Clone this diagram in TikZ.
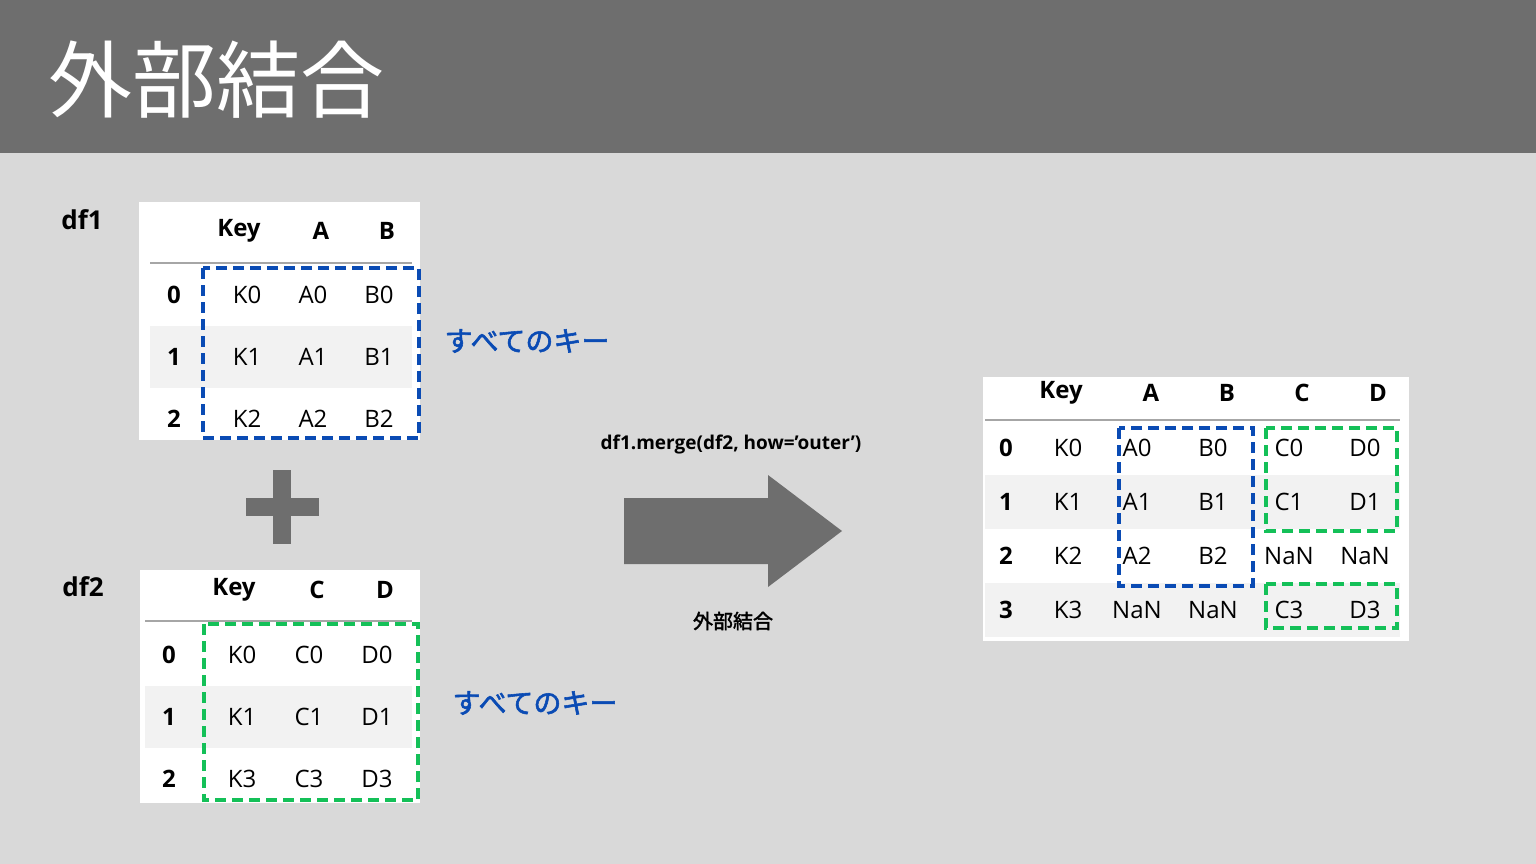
\documentclass[tikz,border=0pt]{standalone}
\usepackage{fontspec}
\setmainfont{Open Sans}
\newfontfamily\jpfont{Noto Sans CJK JP}
\newfontfamily\jpbold{Noto Sans CJK JP}[FakeBold=2]
\usetikzlibrary{positioning,calc}
\definecolor{bandgray}{HTML}{6E6E6E}
\definecolor{bggray}{HTML}{D9D9D9}
\definecolor{rowshade}{HTML}{F2F2F2}
\definecolor{keyblue}{HTML}{0A4BB4}
\definecolor{keygreen}{HTML}{14C058}
\begin{document}
\begin{tikzpicture}[x=1pt,y=-1pt,
  cell/.style={font=\fontsize{24}{24}\selectfont, inner sep=0pt},
  head/.style={cell, font=\fontsize{24}{24}\selectfont\bfseries},
  label/.style={font=\fontsize{26}{26}\selectfont\bfseries, inner sep=0pt},
  keynote/.style={font=\jpbold\fontsize{28}{28}\selectfont, text=keyblue, inner sep=0pt},
  bluebox/.style={draw=keyblue, line width=4pt, dash pattern=on 11pt off 6pt},
  greenbox/.style={draw=keygreen, line width=4pt, dash pattern=on 11pt off 6pt}]
\useasboundingbox (0,0) rectangle (1536,864);
\fill[bggray] (0,0) rectangle (1536,864);
\fill[bandgray] (0,0) rectangle (1536,153);
\node[font=\jpfont\fontsize{84}{84}\selectfont, text=white, anchor=west, inner sep=0pt] (title) at (48,80) {外部結合};

% df1
\node[label] (df1) at (82,220) {df1};
\fill[white] (139,202) rectangle (420,440);
\fill[rowshade] (150,326) rectangle (412,388);
\draw[line width=1.5pt, gray!70] (150,263) -- (412,263);
\node[head] (h1k) at (239,231) {Key};
\node[head] (h1a) at (321,231) {A};
\node[head] (h1b) at (387,231) {B};
\foreach \i/\y in {0/295,1/357,2/419}{
  \node[head] (r1i\i) at (174,\y) {\i};
  \node[cell] (r1k\i) at (247,\y) {K\i};
  \node[cell] (r1a\i) at (313,\y) {A\i};
  \node[cell] (r1b\i) at (379,\y) {B\i};
}
\draw[bluebox] (203,268) rectangle (419,438);
\node[keynote] (all1) at (527,341) {すべてのキー};

% plus
\fill[bandgray] (246,498) rectangle (319,516);
\fill[bandgray] (273,470) rectangle (291,544);

% df2
\node[label] (df2) at (83,587) {df2};
\fill[white] (140,570) rectangle (420,803);
\fill[rowshade] (145,686) rectangle (412,748);
\draw[line width=1.5pt, gray!70] (145,621) -- (412,621);
\node[head] (h2k) at (234,590) {Key};
\node[head] (h2c) at (317,590) {C};
\node[head] (h2d) at (385,590) {D};
\foreach \i/\k/\y in {0/0/655,1/1/717,2/3/779}{
  \node[head] (r2i\i) at (169,\y) {\i};
  \node[cell] (r2k\i) at (242,\y) {K\k};
  \node[cell] (r2c\i) at (309,\y) {C\k};
  \node[cell] (r2d\i) at (377,\y) {D\k};
}
\draw[greenbox] (204,624) rectangle (418,800);
\node[keynote] (all2) at (535,703) {すべてのキー};

% arrow
\fill[bandgray] (624,498) -- (768,498) -- (768,475) -- (842,531) -- (768,587) -- (768,564) -- (624,564) -- cycle;
\node[font=\fontsize{19}{19}\selectfont\bfseries, inner sep=0pt] (call) at (731,445) {df1.merge(df2, how=’outer’)};
\node[font=\jpbold\fontsize{20}{20}\selectfont, inner sep=0pt] (how) at (733,621) {外部結合};

% result
\fill[white] (983,377) rectangle (1409,641);
\fill[rowshade] (985,475) rectangle (1400,529);
\fill[rowshade] (985,583) rectangle (1400,637);
\draw[line width=1.5pt, gray!70] (985,420) -- (1400,420);
\foreach \t/\x in {Key/1061,A/1151,B/1227,C/1302,D/1378}
  \node[head] (rh\t) at (\x,393) {\t};
\foreach \i/\y/\a/\b/\c/\d in {0/448/A0/B0/C0/D0,1/502/A1/B1/C1/D1,2/556/A2/B2/NaN/NaN,3/610/NaN/NaN/C3/D3}{
  \node[head] (ri\i) at (1006,\y) {\i};
  \node[cell] (rk\i) at (1068,\y) {K\i};
  \node[cell] (ra\i) at (1137,\y) {\a};
  \node[cell] (rb\i) at (1213,\y) {\b};
  \node[cell] (rc\i) at (1289,\y) {\c};
  \node[cell] (rd\i) at (1365,\y) {\d};
}
\draw[bluebox] (1119,428) rectangle (1253,586);
\draw[greenbox] (1266,428) rectangle (1397,531);
\draw[greenbox] (1266,584) rectangle (1397,628);
\end{tikzpicture}
\end{document}
